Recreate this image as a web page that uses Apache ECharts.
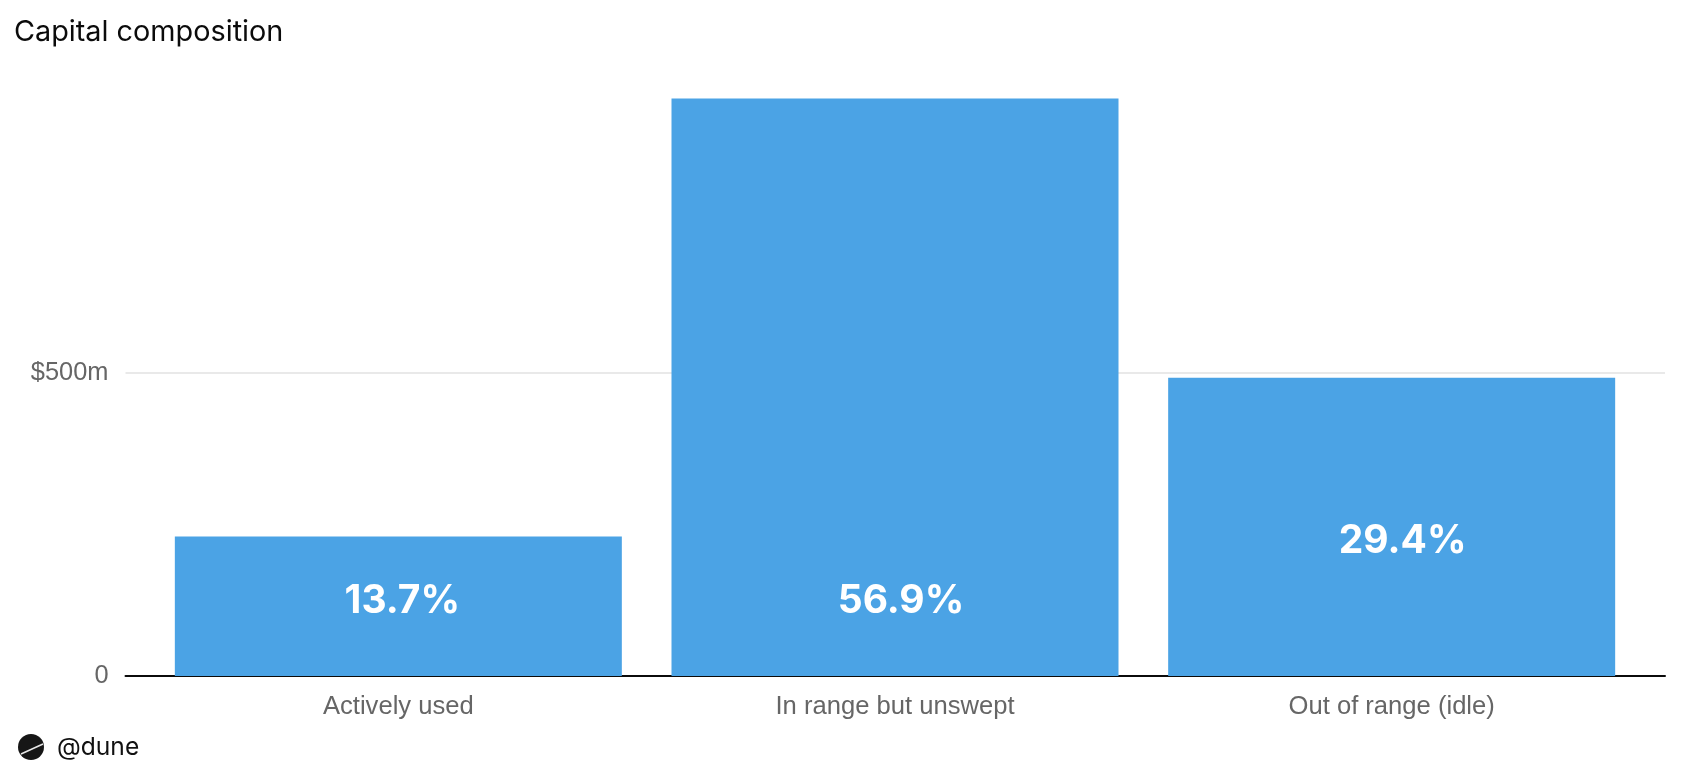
<!DOCTYPE html>
<html><head><meta charset="utf-8">
<style>html,body{margin:0;padding:0;background:#fff}#c{width:1698px;height:778px}</style>
<script src="https://cdn.jsdelivr.net/npm/echarts@6/dist/echarts.min.js"></script>
</head><body><div id="c"></div>
<script>
const categories = ['Actively used', 'In range but unswept', 'Out of range (idle)'];
const capitalUsd = [230, 953, 492];
const shareLabels = ['13.7%', '56.9%', '29.4%'];
const yTicks = { 0: '0', 500: '$500m' };
const titleText = 'Capital composition';
const creditText = '@dune';

const labelShift = [[4, -5], [6, 214], [11, 14]];
const chart = echarts.init(document.getElementById('c'), null, { renderer: 'canvas' });
chart.setOption({
  animation: false,
  backgroundColor: '#fff',
  textStyle: { fontFamily: 'Liberation Sans' },
  title: { text: titleText, left: 9, top: 13, textStyle: { fontFamily: 'Inter', fontWeight: 400, fontSize: 28.8, color: '#0b0b0b' } },
  grid: [
    { left: 125.5, right: 33, top: 70, height: 606 },
    { left: 150, right: 58, top: 70, height: 606 }
  ],
  xAxis: [
    { gridIndex: 0, type: 'category', data: [''], axisTick: { show: false }, axisLabel: { show: false },
      axisLine: { lineStyle: { color: '#0b0b0b', width: 2 } }, z: 1 },
    { gridIndex: 1, type: 'category', data: categories, axisTick: { show: false }, axisLine: { show: false },
      axisLabel: { fontFamily: 'Liberation Sans', fontSize: 25.6, color: '#666', margin: 18 } }
  ],
  yAxis: [
    { gridIndex: 0, type: 'value', min: 0, max: 1000, interval: 500, axisLine: { show: false }, axisTick: { show: false },
      axisLabel: { fontFamily: 'Liberation Sans', fontSize: 25.4, color: '#666', margin: 17, padding: [0, 0, 7, 0], formatter: v => yTicks[v] ?? '', showMaxLabel: false },
      splitLine: { lineStyle: { color: '#e2e2e2', width: 1.5 }, showMaxLine: false, showMinLine: false } },
    { gridIndex: 1, type: 'value', min: 0, max: 1000, interval: 500, show: false }
  ],
  series: [{
    type: 'bar', xAxisIndex: 1, yAxisIndex: 1, barWidth: '90%', z: 3,
    itemStyle: { color: '#4ba3e5' },
    data: capitalUsd.map((v, i) => ({
      value: v,
      label: { show: true, position: 'inside', offset: labelShift[i], formatter: shareLabels[i],
        fontFamily: 'Inter', fontWeight: 700, fontSize: 39, color: '#fff' }
    }))
  }],
  graphic: [
    { type: 'circle', shape: { cx: 31, cy: 747, r: 13 }, style: { fill: '#161616' } },
    { type: 'line', shape: { x1: 21, y1: 754, x2: 43, y2: 744 }, style: { stroke: '#e8e8e8', lineWidth: 1.5 } },
    { type: 'text', style: { x: 57, y: 748, text: creditText, fontFamily: 'Inter', fontSize: 24.6, fill: '#111', verticalAlign: 'middle' } }
  ]
});
</script></body></html>
